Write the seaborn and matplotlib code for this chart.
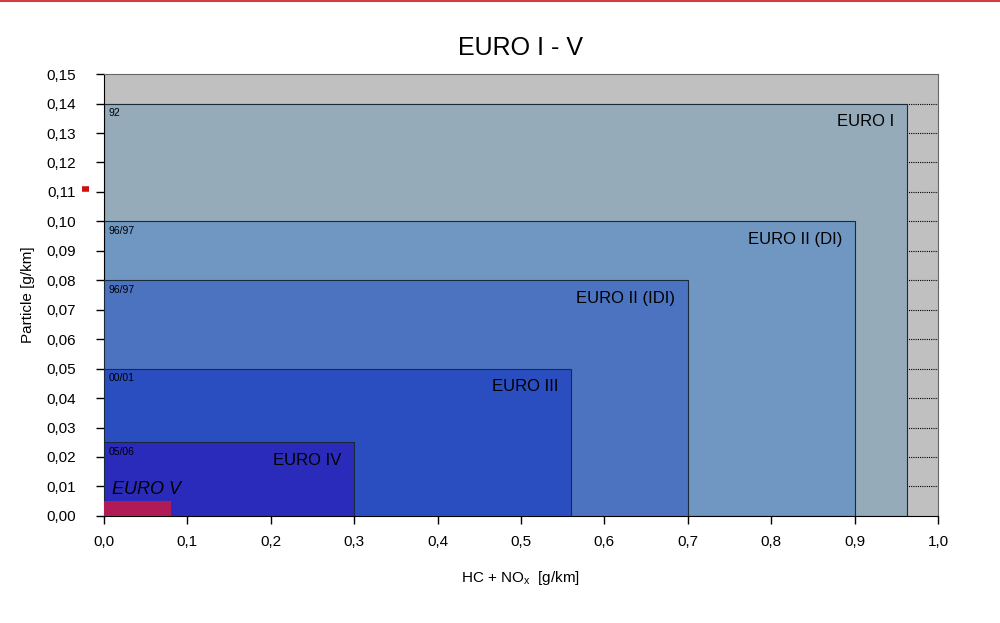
import matplotlib
matplotlib.use("Agg")
import matplotlib.pyplot as plt
import seaborn as sns
from matplotlib.patches import Rectangle
from matplotlib.lines import Line2D

sns.set_style("white")
plt.rcParams['font.family'] = ['Liberation Sans', 'DejaVu Sans']
plt.rcParams['text.color'] = 'black'
plt.rcParams['axes.labelcolor'] = 'black'
plt.rcParams['xtick.color'] = 'black'
plt.rcParams['ytick.color'] = 'black'

# limits per stage: HC+NOx and particle [g/km]
stages = ["EURO I", "EURO II (DI)", "EURO II (IDI)", "EURO III", "EURO IV", "EURO V"]
years = ["92", "96/97", "96/97", "00/01", "05/06", ""]
hc_nox = [0.963, 0.90, 0.70, 0.56, 0.30, 0.08]
particle = [0.14, 0.10, 0.08, 0.05, 0.025, 0.005]
colors = ["#95abba", "#7097c2", "#4b73c0", "#2a4ec0", "#2b2bbb", "#b01a55"]

fig = plt.figure(figsize=(10, 6.23), dpi=100)
ax = fig.add_axes([0.104, 0.172, 0.834, 0.709])
ax.set_facecolor("#c0c0c0")
ax.set_xlim(0, 1.0)
ax.set_ylim(0, 0.15)

yt = [i / 100 for i in range(16)]
for y in yt[1:-1]:
    ax.axhline(y, color="black", lw=0.8, ls=(0, (1, 1)), zorder=0)

for i, (s, yr, x, p, c) in enumerate(zip(stages, years, hc_nox, particle, colors)):
    ec = "none" if s == "EURO V" else "#1a2a3a"
    ax.add_patch(Rectangle((0, 0), x, p, facecolor=c, edgecolor=ec, lw=0.8, zorder=i + 1))
    if yr:
        ax.text(0.005, p - 0.0015, yr, fontsize=7.5, va="top", zorder=10)
    if s == "EURO V":
        ax.text(0.01, 0.0075, s, fontsize=13, style="italic", zorder=10)
    else:
        ax.text(x - 0.015, p - 0.0035, s, fontsize=12, ha="right", va="top", zorder=10)

ax.set_xticks([i / 10 for i in range(11)])
ax.set_xticklabels([f"{i / 10:.1f}".replace(".", ",") for i in range(11)], fontsize=11)
ax.set_yticks(yt)
ax.set_yticklabels([f"{y:.2f}".replace(".", ",") for y in yt], fontsize=11)
ax.tick_params(axis="both", direction="out", length=6, width=1, color="black", bottom=True, left=True)
ax.tick_params(axis="y", pad=14)
ax.tick_params(axis="x", pad=8)
for sp in ax.spines.values():
    sp.set_color("#666666")
ax.spines["left"].set_color("black")
ax.spines["bottom"].set_color("black")

ax.set_xlabel("HC + NO$_{\\mathregular{x}}$  [g/km]", fontsize=11, labelpad=14)
ax.set_ylabel("Particle [g/km]", fontsize=11, labelpad=8)
ax.set_title("EURO I - V", fontsize=18, pad=14)

# red marks from the source slide
ax.plot([-0.026, -0.018], [0.111, 0.111], color="#cc1111", lw=4, clip_on=False, solid_capstyle="butt")
fig.add_artist(Line2D([0, 1], [0.998, 0.998], color="#d04040", lw=1.5))

fig.savefig("out.png", dpi=100)
